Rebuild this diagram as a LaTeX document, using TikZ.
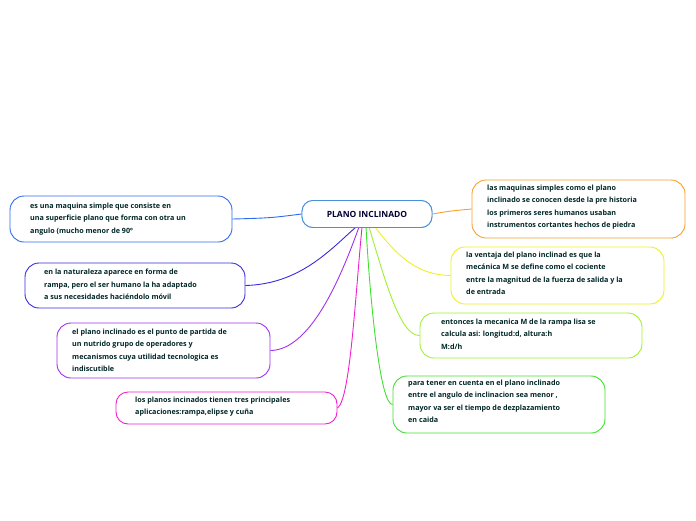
\documentclass[tikz,border=0pt]{standalone}
\usepackage{fontspec}
\setmainfont{Open Sans}
\begin{document}
\begin{tikzpicture}[x=1pt,y=-1pt,
  box/.style={draw, line width=0.9pt, rounded corners=14pt, fill=white, inner sep=0pt},
  txt/.style={anchor=north west, align=left, font=\fontsize{7.2}{12.3}\selectfont\bfseries, text=black!70!teal, inner sep=0pt},
  link/.style={line width=0.9pt}]
\useasboundingbox (0,0) rectangle (696,520);
\definecolor{cblue}{HTML}{4A90D9}
\definecolor{c1}{HTML}{2E6BF0}
\definecolor{c2}{HTML}{3A2AE0}
\definecolor{c3}{HTML}{A030F0}
\definecolor{c4}{HTML}{F020D0}
\definecolor{c5}{HTML}{F5A030}
\definecolor{c6}{HTML}{F0F020}
\definecolor{c7}{HTML}{A0F030}
\definecolor{c8}{HTML}{40E030}
% central
\node[box, draw=cblue, minimum width=130pt, minimum height=27pt, rounded corners=11pt, font=\fontsize{8.5}{10}\selectfont\bfseries, text=black!80!blue] (c) at (367,214) {PLANO INCLINADO};
% boxes
\node[box, draw=c1, minimum width=222pt, minimum height=46pt] (b1) at (121,219) {};
\node[txt] at (30,203) {es una maquina simple que consiste en\\una superficie plano que forma con otra un\\angulo (mucho menor de 90º};
\node[box, draw=c2, minimum width=220pt, minimum height=45pt] (b2) at (135,285.5) {};
\node[txt] at (44,269) {en la naturaleza aparece en forma de\\rampa, pero el ser humano la ha adaptado\\a sus necesidades haciéndolo móvil};
\node[box, draw=c3, minimum width=213pt, minimum height=55pt] (b3) at (163.5,350.5) {};
\node[txt] at (72,329) {el plano inclinado es el punto de partida de\\un nutrido grupo de operadores y\\mecanismos cuya utilidad tecnologica es\\indiscutible};
\node[box, draw=c4, minimum width=221pt, minimum height=32pt, rounded corners=12pt] (b4) at (226.5,408) {};
\node[txt] at (135,397) {los planos incinados tienen tres principales\\aplicaciones:rampa,elipse y cuña};
\node[box, draw=c5, minimum width=213pt, minimum height=58pt] (b5) at (578.5,209) {};
\node[txt] at (487,185) {las maquinas simples como el plano\\inclinado se conocen desde la pre historia\\los primeros seres humanos usaban\\instrumentos cortantes hechos de piedra};
\node[box, draw=c6, minimum width=213pt, minimum height=57pt] (b6) at (557.5,275.5) {};
\node[txt] at (466,252) {la ventaja del plano inclinad es que la\\mecánica M se define como el cociente\\entre la magnitud de la fuerza de salida y la\\de entrada};
\node[box, draw=c7, minimum width=222pt, minimum height=45pt] (b7) at (531,335.5) {};
\node[txt] at (441,319) {entonces la mecanica M de la rampa lisa se\\calcula asi: longitud:d, altura:h\\M:d/h};
\node[box, draw=c8, minimum width=212pt, minimum height=57pt] (b8) at (499,404.5) {};
\node[txt] at (408,380) {para tener en cuenta en el plano inclinado\\entre el angulo de inclinacion sea menor ,\\mayor va ser el tiempo de dezplazamiento\\en caida};
% links
\draw[link, c1] (b1.east) .. controls (270,218) .. (c.west);
\draw[link, c2] (b2.east) .. controls (300,284) and (330,250) .. (356,227);
\draw[link, c3] (b3.east) .. controls (310,350) and (340,280) .. (359,227);
\draw[link, c4] (b4.east) .. controls (350,400) and (355,300) .. (362,227);
\draw[link, c5] (c.east) .. controls (450,211) .. (b5.west);
\draw[link, c6] (375,227) .. controls (400,260) and (420,275) .. (b6.west);
\draw[link, c7] (369,227) .. controls (385,280) and (400,336) .. (b7.west);
\draw[link, c8] (366,227) .. controls (370,300) and (380,405) .. (b8.west);
\node[box, draw=cblue, minimum width=130pt, minimum height=27pt, rounded corners=11pt, font=\fontsize{8.5}{10}\selectfont\bfseries, text=black!80!blue] at (367,214) {PLANO INCLINADO};
\end{tikzpicture}
\end{document}
